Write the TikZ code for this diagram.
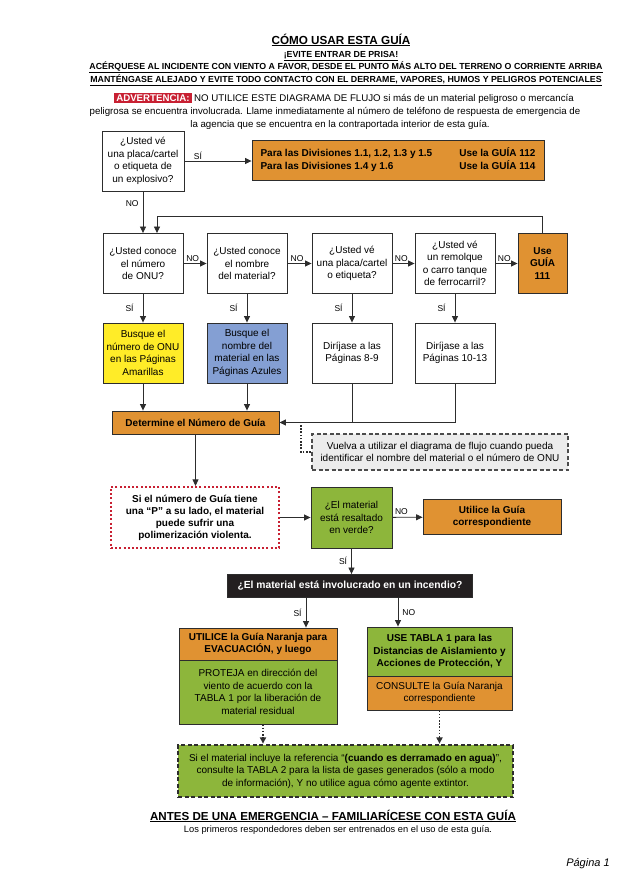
\documentclass[tikz,border=0pt]{standalone}
\usepackage{fontspec}
\setmainfont{Liberation Sans}
\usetikzlibrary{arrows.meta}

\definecolor{guia}{RGB}{224,146,50}
\definecolor{amarillo}{RGB}{255,236,40}
\definecolor{azul}{RGB}{132,159,211}
\definecolor{verde}{RGB}{141,182,59}
\definecolor{rojo}{RGB}{200,32,50}
\definecolor{gris}{RGB}{236,236,236}
\definecolor{linea}{RGB}{45,45,45}
\definecolor{negro}{RGB}{35,31,32}

\begin{document}
\begin{tikzpicture}[x=1pt,y=-1pt,>={Triangle[length=6.5pt,width=6pt]},
    caja/.style={draw=linea,line width=0.9pt,fill=white,inner sep=0pt,align=center,
      minimum width=80pt,minimum height=60pt,font=\fontsize{10}{12.5}\selectfont},
    naranja/.style={caja,fill=guia,font=\fontsize{10}{12.5}\selectfont\bfseries},
    flecha/.style={->,draw=linea,line width=0.8pt},
    punteada/.style={->,draw=linea,line width=1.6pt,dash pattern=on 1.6pt off 1.6pt},
    rotulo/.style={font=\fontsize{8.5}{10}\selectfont,inner sep=1pt},
    encabezado/.style={font=\fontsize{8.8}{10}\selectfont\bfseries}]
  \useasboundingbox (0,0) rectangle (638,895);

  % encabezado
  \node[font=\fontsize{11.7}{13}\selectfont\bfseries] (titulo) at (341,40) {\underline{CÓMO USAR ESTA GUÍA}};
  \node[encabezado] (evite) at (341,56) {\underline{¡EVITE ENTRAR DE PRISA!}};
  \node[encabezado] (acerque) at (346,67) {\underline{ACÉRQUESE AL INCIDENTE CON VIENTO A FAVOR, DESDE EL PUNTO MÁS ALTO DEL TERRENO O CORRIENTE ARRIBA}};
  \node[encabezado] (mantenga) at (346,80) {\underline{MANTÉNGASE ALEJADO Y EVITE TODO CONTACTO CON EL DERRAME, VAPORES, HUMOS Y PELIGROS POTENCIALES}};
  \node[align=center,font=\fontsize{9.7}{13}\selectfont] (advertencia) at (335,111)
    {\hspace*{18pt}{\setlength\fboxsep{2pt}\colorbox{rojo}{\textcolor{white}{\bfseries ADVERTENCIA:}}} NO UTILICE ESTE DIAGRAMA DE FLUJO si más de un material peligroso o mercancía\\
     peligrosa se encuentra involucrada. Llame inmediatamente al número de teléfono de respuesta de emergencia de\\
     \hspace*{10pt}la agencia que se encuentra en la contraportada interior de esta guía.};

  % primera pregunta
  \node[caja,minimum width=82pt] (explosivo) at (143,161) {¿Usted vé\\una placa/cartel\\o etiqueta de\\un explosivo?};
  \node[naranja,minimum width=292pt,minimum height=40pt,font=\fontsize{10}{13}\selectfont\bfseries] (divisiones) at (398,160)
    {\begin{tabular}{@{}l@{\hspace{27pt}}l@{}}
      Para las Divisiones 1.1, 1.2, 1.3 y 1.5 & Use la GUÍA 112\\
      Para las Divisiones 1.4 y 1.6 & Use la GUÍA 114
     \end{tabular}};

  % fila de preguntas
  \node[caja] (onu) at (143,263.5) {¿Usted conoce\\el número\\de ONU?};
  \node[caja] (nombre) at (247,263.5) {¿Usted conoce\\el nombre\\del material?};
  \node[caja] (placa) at (352,263.5) {¿Usted vé\\una placa/cartel\\o etiqueta?};
  \node[caja] (remolque) at (455,263.5) {¿Usted vé\\un remolque\\o carro tanque\\de ferrocarril?};
  \node[naranja,minimum width=49pt] (g111) at (542.5,263.5) {Use\\GUÍA\\111};

  % fila de respuestas
  \node[caja,fill=amarillo] (amarillas) at (143,353) {Busque el\\número de ONU\\en las Páginas\\Amarillas};
  \node[caja,fill=azul] (azules) at (247,353) {Busque el\\nombre del\\material en las\\Páginas Azules};
  \node[caja] (p89) at (352,353) {Diríjase a las\\Páginas 8-9};
  \node[caja] (p1013) at (455,353) {Diríjase a las\\Páginas 10-13};

  \node[naranja,minimum width=167pt,minimum height=23pt] (determine) at (195.5,422.5) {Determine el Número de Guía};
  \node[caja,fill=gris,draw=linea!85,line width=2.4pt,dash pattern=on 4pt off 2.5pt,
    minimum width=256pt,minimum height=36pt] (vuelva) at (440,452)
    {Vuelva a utilizar el diagrama de flujo cuando pueda\\identificar el nombre del material o el número de ONU};

  \node[caja,draw=rojo,line width=2.2pt,dash pattern=on 2pt off 2.2pt,font=\fontsize{10}{12}\selectfont\bfseries,
    minimum width=168pt,minimum height=61pt] (polimero) at (195,517.5)
    {Si el número de Guía tiene\\una “P” a su lado, el material\\puede sufrir una\\polimerización violenta.};
  \node[caja,fill=verde,minimum width=81pt,minimum height=61pt] (resaltado) at (351.5,517.5) {¿El material\\está resaltado\\en verde?};
  \node[naranja,minimum width=138pt,minimum height=35pt] (utilice) at (492,517) {Utilice la Guía\\correspondiente};

  \node[caja,fill=negro,text=white,font=\fontsize{10.3}{12}\selectfont\bfseries,
    minimum width=245pt,minimum height=23pt] (incendio) at (350,586) {¿El material está involucrado en un incendio?};

  % cajas de acciones
  \node[naranja,minimum width=158pt,minimum height=32pt] (evacuar) at (258,644) {UTILICE la Guía Naranja para\\EVACUACIÓN, y luego};
  \node[caja,fill=verde,minimum width=158pt,minimum height=64pt] (protege) at (258,692)
    {PROTEJA en dirección del\\viento de acuerdo con la\\TABLA 1 por la liberación de\\material residual};
  \node[caja,fill=verde,font=\fontsize{10}{12.5}\selectfont\bfseries,minimum width=145pt,minimum height=49pt] (tabla) at (439.5,651.5)
    {USE TABLA 1 para las\\Distancias de Aislamiento y\\Acciones de Protección, Y};
  \node[caja,fill=guia,minimum width=145pt,minimum height=34pt] (consulte) at (439.5,693) {CONSULTE la Guía Naranja\\correspondiente};

  \node[caja,fill=verde,draw=linea,line width=2.4pt,dash pattern=on 4pt off 2.5pt,
    minimum width=335pt,minimum height=52pt] (agua) at (345.5,771)
    {Si el material incluye la referencia “\textbf{(cuando es derramado en agua)}”,\\
     consulte la TABLA 2 para la lista de gases generados (sólo a modo\\
     de información), Y no utilice agua cómo agente extintor.};

  % pie
  \node[font=\fontsize{11.6}{13}\selectfont\bfseries] (antes) at (333,816) {\underline{ANTES DE UNA EMERGENCIA – FAMILIARÍCESE CON ESTA GUÍA}};
  \node[font=\fontsize{9.3}{11}\selectfont] (primeros) at (338,830) {Los primeros respondedores deben ser entrenados en el uso de esta guía.};
  \node[font=\fontsize{11}{13}\selectfont\itshape] (pagina) at (588,864) {Página 1};

  % conectores
  \draw[flecha] (explosivo.east) -- node[rotulo,above,pos=0.2] {SÍ} (explosivo.east -| divisiones.west);
  \draw[flecha] (explosivo.south) -- node[rotulo,left=3pt,pos=0.3] {NO} (explosivo.south |- onu.north);
  \draw[flecha] (g111.north) -- ++(0,-17) -| ([xshift=14]onu.north);

  \draw[flecha] (onu) -- node[rotulo,above=1pt,pos=0.4] {NO} (nombre);
  \draw[flecha] (nombre) -- node[rotulo,above=1pt,pos=0.4] {NO} (placa);
  \draw[flecha] (placa) -- node[rotulo,above=1pt,pos=0.4] {NO} (remolque);
  \draw[flecha] (remolque) -- node[rotulo,above=1pt,pos=0.4] {NO} (g111);

  \draw[flecha] (onu) -- node[rotulo,left=8pt] {SÍ} (amarillas);
  \draw[flecha] (nombre) -- node[rotulo,left=8pt] {SÍ} (azules);
  \draw[flecha] (placa) -- node[rotulo,left=8pt] {SÍ} (p89);
  \draw[flecha] (remolque) -- node[rotulo,left=8pt] {SÍ} (p1013);

  \draw[flecha] (amarillas) -- (amarillas |- determine.north);
  \draw[flecha] (azules) -- (azules |- determine.north);
  \draw[draw=linea,line width=0.8pt] (p89.south) -- (p89.south |- determine.east);
  \draw[flecha] (p1013.south) |- (determine.east);
  \coordinate (enlace) at (301,422);
  \draw[draw=linea,line width=1.6pt,dash pattern=on 1.6pt off 1.6pt] (vuelva.west) -| (enlace);

  \draw[flecha] (determine.south) -- (determine.south |- polimero.north);
  \draw[flecha] (polimero) -- (resaltado);
  \draw[flecha] (resaltado) -- node[rotulo,above=1pt,pos=0.3] {NO} (utilice);
  \draw[flecha] (resaltado) -- node[rotulo,left=3pt] {SÍ} (resaltado |- incendio.north);

  \draw[flecha] ([xshift=-44]incendio.south) -- node[rotulo,left=3pt] {SÍ} ([xshift=-44]incendio.south |- evacuar.north);
  \draw[flecha] ([xshift=48]incendio.south) -- node[rotulo,right=3pt] {NO} ([xshift=48]incendio.south |- tabla.north);
  \draw[punteada] ([xshift=5]protege.south) -- ([xshift=5]protege.south |- agua.north);
  \draw[punteada] (consulte.south) -- (consulte.south |- agua.north);
\end{tikzpicture}
\end{document}
